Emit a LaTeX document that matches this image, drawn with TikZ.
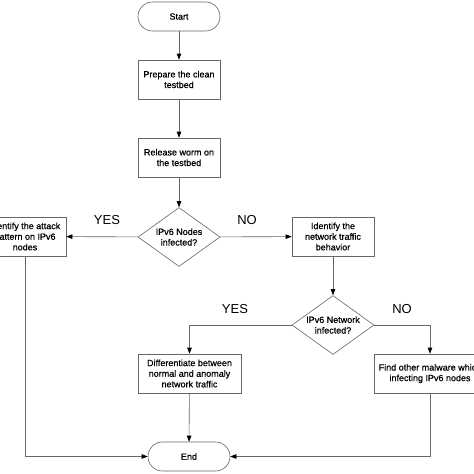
\documentclass[tikz,border=0pt]{standalone}
\usepackage{fontspec}
\setmainfont{Liberation Sans}
\newfontfamily\boxfont[FakeBold=0.7]{Liberation Sans}
\usetikzlibrary{shapes.geometric,arrows.meta}
\begin{document}
\begin{tikzpicture}[x=1pt,y=-1pt,
  every node/.style={font=\boxfont\fontsize{9}{10.6}\selectfont, align=center, text=black},
  procbox/.style={draw=black!60, line width=0.6pt, rectangle, minimum width=82pt, minimum height=39pt, inner sep=1pt},
  termbox/.style={draw=black!60, line width=0.6pt, rectangle, rounded corners=14.5pt, minimum width=82pt, minimum height=29pt, inner sep=1pt},
  decbox/.style={draw=black!60, line width=0.6pt, diamond, aspect=1.4, minimum width=82pt, minimum height=59pt, inner sep=0pt},
  lbl/.style={font=\rmfamily\fontsize{13}{15}\selectfont},
  conn/.style={draw=black!60, line width=0.6pt, -{Triangle[length=6pt,width=4.5pt,fill=black,color=black]}}
]
\useasboundingbox (0,0) rectangle (474,474);
\clip (0,0) rectangle (474,474);
\fill[white] (0,0) rectangle (474,474);

\node[termbox] (start) at (179,16.5) {Start};
\node[procbox] (prep) at (179,79.5) {Prepare the clean\\testbed};
\node[procbox] (rel) at (179,157.5) {Release worm on\\the testbed};
\node[decbox] (d1) at (179,237) {IPv6 Nodes\\infected?};
\node[procbox] (att) at (25,236.5) {Identify the attack\\pattern on IPv6\\nodes};
\node[procbox] (beh) at (333,236.5) {Identify the\\network traffic\\behavior};
\node[decbox] (d2) at (333,325) {IPv6 Network\\infected?};
\node[procbox, minimum width=103pt] (diff) at (189.5,373.5) {Differentiate between\\normal and anomaly\\network traffic};
\node[procbox, minimum width=112pt] (find) at (430,373.5) {Find other malware which\\infecting IPv6 nodes};
\node[termbox] (end) at (189,456.5) {End};

\node[lbl] at (107,220) {YES};
\node[lbl] at (247,220) {NO};
\node[lbl] at (235,309) {YES};
\node[lbl] at (402,309) {NO};

\draw[conn] (start) -- (prep);
\draw[conn] (prep) -- (rel);
\draw[conn] (rel) -- (d1);
\draw[conn] (d1) -- (att);
\draw[conn] (d1) -- (beh);
\draw[conn] (beh) -- (d2);
\draw[conn] (d2.west) -| (diff.north);
\draw[conn] (d2.east) -| (find.north);
\draw[conn] (diff) -- (end);
\draw[conn] (att.south) |- (end.west);
\draw[conn] (find.south) |- (end.east);
\end{tikzpicture}
\end{document}
